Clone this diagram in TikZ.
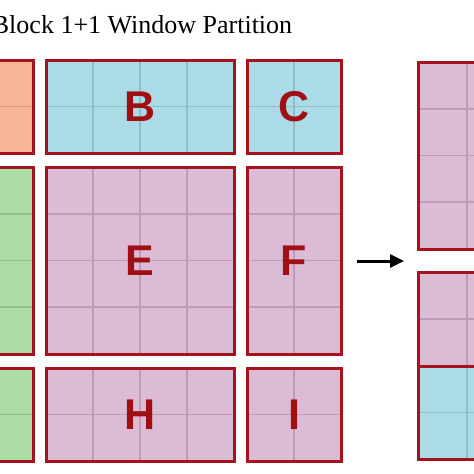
\documentclass[tikz,border=0pt]{standalone}
\usepackage{fontspec}
\setmainfont{Liberation Serif}
\newfontfamily\lettfont{Liberation Sans}
\usetikzlibrary{arrows.meta}
\definecolor{bordred}{HTML}{A5141E}
\definecolor{lettred}{HTML}{A00F14}
\definecolor{bluefill}{HTML}{ABDBE6}
\definecolor{bluegrid}{HTML}{8FBFCC}
\definecolor{pinkfill}{HTML}{DCBCD4}
\definecolor{pinkgrid}{HTML}{C09AB6}
\definecolor{greenfill}{HTML}{ABDDA5}
\definecolor{greengrid}{HTML}{8FBF8A}
\definecolor{orangefill}{HTML}{F8B498}
\definecolor{orangegrid}{HTML}{D99A80}
\tikzset{
  border/.style={draw=bordred, line width=3pt},
  gridline/.style={line width=1.6pt},
  letter/.style={font=\lettfont\bfseries\fontsize{43}{43}\selectfont, text=lettred, inner sep=0pt},
  title/.style={font=\fontsize{26}{26}\selectfont, inner sep=0pt, anchor=base west},
  arrowline/.style={line width=3pt, -{Triangle[length=14pt,width=13pt]}}
}
% \gbox{name}{x1}{y1}{x2}{y2}{cols}{rows}{colour prefix}
\newcommand\gbox[8]{%
  \fill[#8fill] (#2,#3) rectangle (#4,#5);
  \pgfmathsetmacro\gbcw{(#4-#2)/#6}%
  \pgfmathsetmacro\gbrh{(#5-#3)/#7}%
  \pgfmathtruncatemacro\gbnc{#6-1}%
  \pgfmathtruncatemacro\gbnr{#7-1}%
  \ifnum\gbnc>0
    \foreach \i in {1,...,\gbnc} \draw[gridline, #8grid] ({#2+\i*\gbcw},#3) -- ({#2+\i*\gbcw},#5);
  \fi
  \ifnum\gbnr>0
    \foreach \j in {1,...,\gbnr} \draw[gridline, #8grid] (#2,{#3+\j*\gbrh}) -- (#4,{#3+\j*\gbrh});
  \fi
  \coordinate (#1-nw) at (#2,#3);
  \coordinate (#1-se) at (#4,#5);
  \coordinate (#1-c) at ({(#2+#4)/2},{(#3+#5)/2});
}
\begin{document}
\begin{tikzpicture}[x=1pt,y=-1pt]
\useasboundingbox (0,0) rectangle (474,474);
\clip (0,0) rectangle (474,474);
\fill[white] (0,0) rectangle (474,474);
% title
\node[title] (ttl) at (-8.3,33) {Block 1+1 Window Partition};
% row 1
\gbox{A}{-61}{60}{33}{153}{2}{2}{orange}
\gbox{B}{46}{60}{234}{153}{4}{2}{blue}
\gbox{C}{247}{60}{341}{153}{2}{2}{blue}
% row 2
\gbox{D}{-61}{167}{33}{354}{2}{4}{green}
\gbox{E}{46}{167}{234}{354}{4}{4}{pink}
\gbox{F}{247}{167}{341}{354}{2}{4}{pink}
% row 3
\gbox{G}{-61}{368}{33}{461}{2}{2}{green}
\gbox{H}{46}{368}{234}{461}{4}{2}{pink}
\gbox{I}{247}{368}{341}{461}{2}{2}{pink}
% right side
\gbox{R1}{418}{62}{516}{249}{2}{4}{pink}
\gbox{R2}{418}{272}{516}{366}{2}{2}{pink}
\gbox{R3}{418}{366}{516}{459}{2}{2}{blue}
% borders
\foreach \n in {A,B,C,D,E,F,G,H,I,R1,R2,R3}
  \draw[border] (\n-nw) rectangle (\n-se);
% letters
\foreach \n in {A,B,C,D,E,F,G,H,I}
  \node[letter] (L\n) at (\n-c) {\n};
% arrow
\coordinate (arrS) at (357,261);
\coordinate (arrE) at (404,261);
\draw[arrowline] (arrS) -- (arrE);
\end{tikzpicture}
\end{document}
